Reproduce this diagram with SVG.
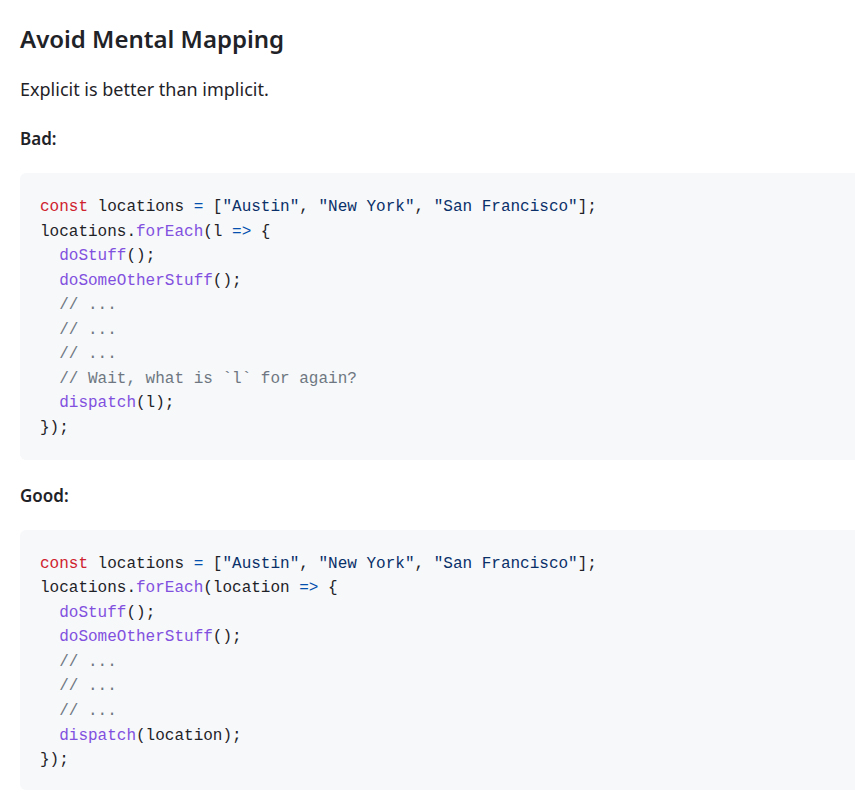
<svg xmlns="http://www.w3.org/2000/svg" width="855" height="806" viewBox="0 0 855 806">
<style>
.h{font-family:"Noto Sans","Open Sans",sans-serif;fill:#1f2328}
.c{font-family:"Liberation Mono","DejaVu Sans Mono",monospace;font-size:16px;fill:#1f2328;white-space:pre}
.k{fill:#cf222e}.s{fill:#0a3069}.o{fill:#0550ae}.f{fill:#8250df}.m{fill:#6e7781}
.box{fill:#f6f8fa}
</style>
<rect width="855" height="806" fill="#fff"/>
<text class="h" x="20" y="48" font-size="24" font-weight="600">Avoid Mental Mapping</text>
<text class="h" x="20" y="96" font-size="18">Explicit is better than implicit.</text>
<text class="h" x="20" y="145" font-size="17" font-weight="600">Bad:</text>
<g id="bad">
<rect class="box" x="20" y="173" width="845" height="287" rx="6"/>
<text class="c" x="40" y="211"><tspan class="k">const</tspan> locations <tspan class="o">=</tspan> [<tspan class="s">"Austin"</tspan>, <tspan class="s">"New York"</tspan>, <tspan class="s">"San Francisco"</tspan>];</text>
<text class="c" x="40" y="236">locations.<tspan class="f">forEach</tspan>(l <tspan class="o">=&gt;</tspan> {</text>
<text class="c" x="40" y="260">  <tspan class="f">doStuff</tspan>();</text>
<text class="c" x="40" y="285">  <tspan class="f">doSomeOtherStuff</tspan>();</text>
<text class="c m" x="40" y="309">  // ...</text>
<text class="c m" x="40" y="334">  // ...</text>
<text class="c m" x="40" y="358">  // ...</text>
<text class="c m" x="40" y="383">  // Wait, what is `l` for again?</text>
<text class="c" x="40" y="407">  <tspan class="f">dispatch</tspan>(l);</text>
<text class="c" x="40" y="432">});</text>
</g>
<text class="h" x="20" y="502" font-size="17" font-weight="600">Good:</text>
<g id="good">
<rect class="box" x="20" y="530" width="845" height="260" rx="6"/>
<text class="c" x="40" y="568"><tspan class="k">const</tspan> locations <tspan class="o">=</tspan> [<tspan class="s">"Austin"</tspan>, <tspan class="s">"New York"</tspan>, <tspan class="s">"San Francisco"</tspan>];</text>
<text class="c" x="40" y="592">locations.<tspan class="f">forEach</tspan>(location <tspan class="o">=&gt;</tspan> {</text>
<text class="c" x="40" y="617">  <tspan class="f">doStuff</tspan>();</text>
<text class="c" x="40" y="641">  <tspan class="f">doSomeOtherStuff</tspan>();</text>
<text class="c m" x="40" y="666">  // ...</text>
<text class="c m" x="40" y="690">  // ...</text>
<text class="c m" x="40" y="715">  // ...</text>
<text class="c" x="40" y="740">  <tspan class="f">dispatch</tspan>(location);</text>
<text class="c" x="40" y="764">});</text>
</g>
</svg>
